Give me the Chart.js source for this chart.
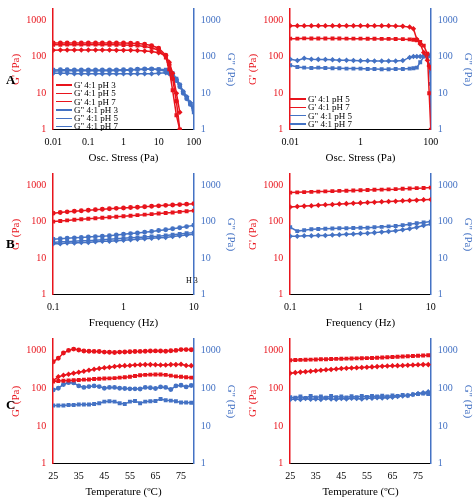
<!DOCTYPE html>
<html><head><meta charset="utf-8">
<script src="https://cdn.jsdelivr.net/npm/chart.js@4"></script>
<style>
body{margin:0;width:474px;height:499px;background:#fff;position:relative;font-family:"Liberation Serif",serif;overflow:hidden}
.c{position:absolute}
.lab{position:absolute;font-weight:bold;font-size:13px}
.lg{position:absolute;font-size:9px;line-height:8.3px}
.lg div{display:flex;align-items:center;white-space:nowrap}
.lg span{display:inline-block;width:16px;height:1.5px;margin-right:2px}
</style></head><body>
<div class="c" style="left:0;top:0;width:237px;height:165px"><canvas id="a1"></canvas></div>
<div class="c" style="left:237px;top:0;width:237px;height:165px"><canvas id="a2"></canvas></div>
<div class="c" style="left:0;top:165px;width:237px;height:165px"><canvas id="b1"></canvas></div>
<div class="c" style="left:237px;top:165px;width:237px;height:165px"><canvas id="b2"></canvas></div>
<div class="c" style="left:0;top:330px;width:237px;height:169px"><canvas id="c1"></canvas></div>
<div class="c" style="left:237px;top:330px;width:237px;height:169px"><canvas id="c2"></canvas></div>
<div class="lab" style="left:6px;top:72px">A</div>
<div class="lab" style="left:6px;top:236px">B</div>
<div class="lab" style="left:6px;top:397px">C</div>
<div class="lg" style="left:56px;top:81px">
<div><span style="background:#e8141c"></span>G' 4:1 pH 3</div><div><span style="background:#e8141c"></span>G' 4:1 pH 5</div><div><span style="background:#e8141c"></span>G' 4:1 pH 7</div>
<div><span style="background:#4472c4"></span>G" 4:1 pH 3</div><div><span style="background:#4472c4"></span>G" 4:1 pH 5</div><div><span style="background:#4472c4"></span>G" 4:1 pH 7</div></div>
<div class="lg" style="left:290px;top:95px">
<div><span style="background:#e8141c"></span>G' 4:1 pH 5</div><div><span style="background:#e8141c"></span>G' 4:1 pH 7</div>
<div><span style="background:#4472c4"></span>G" 4:1 pH 5</div><div><span style="background:#4472c4"></span>G" 4:1 pH 7</div></div>
<div style="position:absolute;left:186px;top:276px;font-size:8px">H 3</div>
<script>
const RED='#e8141c', BLUE='#4472c4';
const aLX=[0.01,0.016,0.025,0.04,0.063,0.1,0.16,0.25,0.4,0.63,1,1.6,2.5,4,6.3,10,16,20,25,32,40];
const aL_Gp3=[235,236,236,237,237,237,237,237,236,236,235,233,228,218,200,170,110,60,25,6,1];
const aL_Gp5=[210,211,212,212,212,212,212,212,211,210,208,205,200,190,175,150,95,45,12,2.5,1];
const aL_Gp7X=[0.01,0.016,0.025,0.04,0.063,0.1,0.16,0.25,0.4,0.63,1,1.6,2.5,4,6.3,10,16,20,25,32,40];
const aL_Gp7=[150,151,152,152,152,152,152,152,151,150,150,149,147,143,137,128,105,70,35,10,3];
const aL_GX=[0.01,0.016,0.025,0.04,0.063,0.1,0.16,0.25,0.4,0.63,1,1.6,2.5,4,6.3,10,16,20,25,32,40,50,63,80,100];
const aL_Gpp3=[43,44,44,43,43,43,43,43,43,43,44,44,45,46,46,44,40,36,30,22,15,10,7,5,3.5];
const aL_Gpp5=[40,41,41,41,41,41,41,41,41,42,42,43,44,45,46,45,44,42,35,25,17,11,7.5,5,3];
const aL_Gpp7=[35,35,35,34,34,34,34,34,34,34,34,34,34,34,34,35,36,34,30,24,17,11,8,5.5,3.8];
const aRX=[0.01,0.016,0.025,0.04,0.063,0.1,0.16,0.25,0.4,0.63,1,1.6,2.5,4,6.3,10,16,25,32,40,50,63,80,90,100];
const aR_Gp5=[310,310,315,312,312,312,312,312,310,310,310,308,308,305,305,303,300,295,290,280,250,200,120,10,1];
const aR_Gp7=[700,700,700,700,700,700,700,700,700,700,700,700,700,700,700,690,680,640,580,300,220,130,80,55,48];
const aR_Gpp5=[58,52,50,49,50,49,48,48,47,47,47,46,46,45,45,46,46,47,48,50,70,100,110,60,18];
const aR_Gpp7=[85,78,90,85,84,83,82,80,79,78,77,77,76,76,76,76,78,95,100,100,100,105,115,105,105];
const bX=[0.1,0.126,0.158,0.2,0.251,0.316,0.398,0.5,0.63,0.79,1,1.26,1.58,2,2.51,3.16,3.98,5,6.3,7.9,10];
const bL_Gp1=[170,178,185,192,198,205,212,218,224,230,236,242,248,255,262,270,278,285,292,300,310];
const bL_Gp2=[100,104,108,112,116,120,124,128,132,136,140,145,150,155,160,166,172,178,185,192,200];
const bL_Gpp1=[33,34,35,36,37,38,39,40,41,43,45,47,49,51,54,57,60,64,68,73,80];
const bL_Gpp2=[27,28,28,29,30,30,31,32,33,34,35,36,37,38,39,40,42,44,46,48,50];
const bL_Gpp3=[25,25,26,26,27,27,28,29,29,30,31,32,33,34,35,36,37,39,41,43,45];
const bR_Gp1=[620,630,640,650,660,670,680,690,700,710,720,730,740,750,760,770,790,800,820,830,850];
const bR_Gp2=[250,258,265,272,280,287,295,302,310,318,325,332,340,348,355,362,370,378,386,393,400];
const bR_Gpp1=[70,55,58,62,63,64,65,66,66,67,68,68,70,72,74,76,80,85,90,95,100];
const bR_Gpp2=[40,40,41,41,42,42,43,44,45,46,47,48,50,52,54,56,60,64,70,78,85];
const cX=[25,27,29,31,33,35,37,39,41,43,45,47,49,51,53,55,57,59,61,63,65,67,69,71,73,75,77,79];
const cL_Gp1=[500,620,850,1000,1080,1020,960,950,940,930,900,890,880,900,910,920,930,940,950,960,970,960,950,980,1000,1050,1050,1040];
const cL_Gp2=[160,200,220,235,250,265,280,300,315,330,345,360,375,385,395,400,410,415,420,420,415,410,410,420,420,430,400,395];
const cL_Gp3=[150,155,158,160,162,165,168,170,175,178,180,182,185,190,195,200,210,220,225,228,230,230,225,215,205,200,195,190];
const cL_Gpp1=[90,100,125,140,138,115,105,110,115,110,100,105,105,100,98,96,96,95,105,103,98,108,105,92,115,120,108,118];
const cL_Gpp2=[35,35,35,36,36,37,37,37,38,40,44,45,44,40,38,44,46,40,44,45,46,52,48,47,45,42,42,41];
const cR_Gp1=[550,555,560,565,570,575,580,585,590,595,600,605,610,615,620,625,630,640,650,660,670,680,690,700,710,720,730,740];
const cR_Gp2=[250,258,266,274,282,290,298,306,314,322,330,336,342,348,354,360,366,372,378,384,390,395,400,405,410,415,420,420];
const cR_Gpp1=[58,56,60,55,62,57,60,56,62,58,60,57,61,58,62,59,62,60,63,60,64,62,66,64,68,70,72,70];
const cR_Gpp2=[50,52,50,53,51,52,50,54,52,51,53,52,54,53,52,55,54,56,55,57,58,60,62,64,68,72,76,80];

const pts=(xs,ys)=>xs.map((x,i)=>({x:x,y:ys[i]}));
function ds(xs,ys,color,style){return {data:pts(xs,ys),borderColor:color,backgroundColor:color,borderWidth:1.5,pointRadius:1.7,pointStyle:style||'circle',tension:0};}
const logTicks=[1,10,100,1000];
function yAxis(color,pos,title){return {type:'logarithmic',position:pos,min:1,max:2000,
  afterBuildTicks:a=>{a.ticks=logTicks.map(v=>({value:v}));},
  ticks:{color:color,font:{family:'Liberation Serif',size:10},callback:v=>String(v)},
  grid:{display:false,drawTicks:true,tickLength:4,tickColor:color},border:{color:color,width:1.5},
  title:{display:true,text:title,color:color,font:{family:'Liberation Serif',size:11},padding:0}};}
function make(id,datasets,xcfg){
  new Chart(document.getElementById(id),{type:'line',data:{datasets:datasets},
   options:{responsive:true,maintainAspectRatio:false,animation:false,
    layout:{padding:{left:10,right:0,top:4,bottom:0}},
    plugins:{legend:{display:false},tooltip:{enabled:false}},
    scales:{x:xcfg,y:yAxis(RED,'left',"G' (Pa)"),y2:yAxis(BLUE,'right','G" (Pa)')}}});
}
function logX(min,max,ticks,title){return {type:'logarithmic',min:min,max:max,
  afterBuildTicks:a=>{a.ticks=ticks.map(v=>({value:v}));},
  ticks:{color:'#000',font:{family:'Liberation Serif',size:10},callback:v=>String(v),maxRotation:0},
  grid:{display:false,tickLength:4,tickColor:'#000'},border:{color:'#000'},
  title:{display:true,text:title,color:'#000',font:{family:'Liberation Serif',size:11},padding:0}};}
function linX(title){return {type:'linear',min:25,max:80,
  afterBuildTicks:a=>{a.ticks=[25,35,45,55,65,75].map(v=>({value:v}));},
  ticks:{color:'#000',font:{family:'Liberation Serif',size:10},maxRotation:0},
  grid:{display:false,tickLength:4,tickColor:'#000'},border:{color:'#000'},
  title:{display:true,text:title,color:'#000',font:{family:'Liberation Serif',size:11},padding:0}};}
const b2=(d)=>Object.assign(d,{yAxisID:'y2'});
make('a1',[ds(aLX,aL_Gp3,RED),ds(aLX,aL_Gp5,RED,'rect'),ds(aL_Gp7X,aL_Gp7,RED,'rectRot'),
  b2(ds(aL_GX,aL_Gpp3,BLUE)),b2(ds(aL_GX,aL_Gpp5,BLUE,'rect')),b2(ds(aL_GX,aL_Gpp7,BLUE,'rectRot'))],
  logX(0.01,100,[0.01,0.1,1,10,100],'Osc. Stress (Pa)'));
make('a2',[ds(aRX,aR_Gp5,RED,'rect'),ds(aRX,aR_Gp7,RED,'rectRot'),
  b2(ds(aRX,aR_Gpp5,BLUE,'rect')),b2(ds(aRX,aR_Gpp7,BLUE,'rectRot'))],
  logX(0.01,100,[0.01,1,100],'Osc. Stress (Pa)'));
make('b1',[ds(bX,bL_Gp1,RED),ds(bX,bL_Gp2,RED,'rect'),
  b2(ds(bX,bL_Gpp1,BLUE)),b2(ds(bX,bL_Gpp2,BLUE,'rect')),b2(ds(bX,bL_Gpp3,BLUE,'rectRot'))],
  logX(0.1,10,[0.1,1,10],'Frequency (Hz)'));
make('b2',[ds(bX,bR_Gp1,RED,'rect'),ds(bX,bR_Gp2,RED,'rectRot'),
  b2(ds(bX,bR_Gpp1,BLUE,'rect')),b2(ds(bX,bR_Gpp2,BLUE,'rectRot'))],
  logX(0.1,10,[0.1,1,10],'Frequency (Hz)'));
make('c1',[ds(cX,cL_Gp1,RED),ds(cX,cL_Gp2,RED,'rectRot'),ds(cX,cL_Gp3,RED,'rect'),
  b2(ds(cX,cL_Gpp1,BLUE)),b2(ds(cX,cL_Gpp2,BLUE,'rect'))],linX('Temperature (ºC)'));
make('c2',[ds(cX,cR_Gp1,RED,'rect'),ds(cX,cR_Gp2,RED,'rectRot'),
  b2(ds(cX,cR_Gpp1,BLUE,'rect')),b2(ds(cX,cR_Gpp2,BLUE,'rectRot'))],linX('Temperature (ºC)'));
</script></body></html>
